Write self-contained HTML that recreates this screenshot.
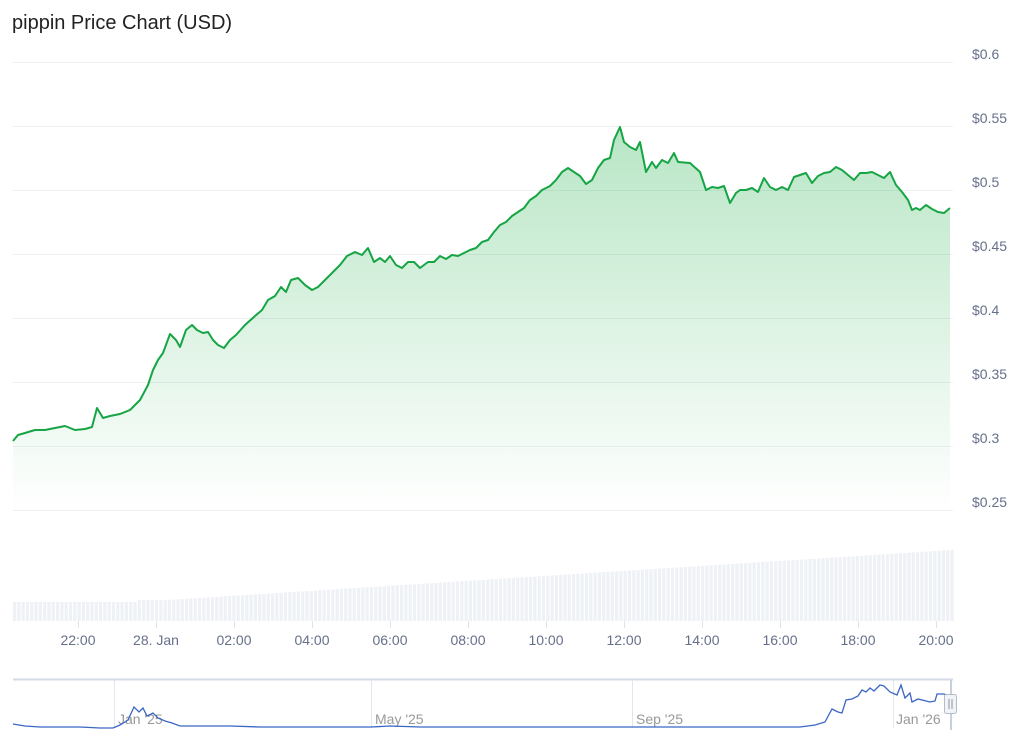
<!DOCTYPE html>
<html><head><meta charset="utf-8"><style>
body{margin:0;background:#fff;font-family:"Liberation Sans",sans-serif;}
svg text{font-family:"Liberation Sans",sans-serif;}
</style></head><body>
<svg id="s" width="1024" height="748" xmlns="http://www.w3.org/2000/svg">
<defs><linearGradient id="g" x1="0" y1="0" x2="0" y2="1"><stop offset="0" stop-color="#22b04b" stop-opacity="0.32"/><stop offset="1" stop-color="#22b04b" stop-opacity="0"/></linearGradient></defs>
<text x="12" y="29" font-size="20" fill="#222">pippin Price Chart (USD)</text>
<g stroke="#eef0f3" stroke-width="1">
<line x1="13" x2="953" y1="62.5" y2="62.5"/><line x1="13" x2="953" y1="126.5" y2="126.5"/><line x1="13" x2="953" y1="190.5" y2="190.5"/><line x1="13" x2="953" y1="254.5" y2="254.5"/><line x1="13" x2="953" y1="318.5" y2="318.5"/><line x1="13" x2="953" y1="382.5" y2="382.5"/><line x1="13" x2="953" y1="446.5" y2="446.5"/><line x1="13" x2="953" y1="510.5" y2="510.5"/>
</g>
<g font-size="14" fill="#66708a">
<text x="972" y="59">$0.6</text><text x="972" y="123">$0.55</text><text x="972" y="187">$0.5</text><text x="972" y="251">$0.45</text><text x="972" y="315">$0.4</text><text x="972" y="379">$0.35</text><text x="972" y="443">$0.3</text><text x="972" y="507">$0.25</text>
</g>
<g id="vol" fill="#eef1f5"></g>
<path id="area" fill="url(#g)"/>
<path id="line" fill="none" stroke="#16a544" stroke-width="2" stroke-linejoin="round"/>
<g stroke="#e0e4ec"><line x1="78.5" x2="78.5" y1="621" y2="628"/><line x1="156.5" x2="156.5" y1="621" y2="628"/><line x1="234.5" x2="234.5" y1="621" y2="628"/><line x1="312.5" x2="312.5" y1="621" y2="628"/><line x1="390.5" x2="390.5" y1="621" y2="628"/><line x1="468.5" x2="468.5" y1="621" y2="628"/><line x1="546.5" x2="546.5" y1="621" y2="628"/><line x1="624.5" x2="624.5" y1="621" y2="628"/><line x1="702.5" x2="702.5" y1="621" y2="628"/><line x1="780.5" x2="780.5" y1="621" y2="628"/><line x1="858.5" x2="858.5" y1="621" y2="628"/><line x1="936.5" x2="936.5" y1="621" y2="628"/></g>
<g font-size="14" fill="#66708a" text-anchor="middle">
<text x="78" y="645">22:00</text><text x="156" y="645">28. Jan</text><text x="234" y="645">02:00</text><text x="312" y="645">04:00</text><text x="390" y="645">06:00</text><text x="468" y="645">08:00</text><text x="546" y="645">10:00</text><text x="624" y="645">12:00</text><text x="702" y="645">14:00</text><text x="780" y="645">16:00</text><text x="858" y="645">18:00</text><text x="936" y="645">20:00</text>
</g>
<line x1="13" x2="953" y1="679.5" y2="679.5" stroke="#d5dbe6" stroke-width="2"/>
<g stroke="#e3e6ec"><line x1="114.5" x2="114.5" y1="680" y2="728"/><line x1="371.5" x2="371.5" y1="680" y2="728"/><line x1="632.5" x2="632.5" y1="680" y2="728"/><line x1="893.5" x2="893.5" y1="680" y2="728"/></g>
<g font-size="14" fill="#999"><text x="118" y="724">Jan '25</text><text x="375" y="724">May '25</text><text x="636" y="724">Sep '25</text><text x="896" y="724">Jan '26</text></g>
<path fill="none" stroke="#3a66c4" stroke-width="1.3" d="M13,724 L25,726 L40,727 L60,727 L80,727 L100,728 L113,728 L120,725 L128,720 L134,707 L139,712 L143,708 L147,716 L153,713 L158,718 L165,721 L172,723 L180,726 L200,726 L230,726 L260,727 L300,727 L340,727 L371,727 L390,726 L420,727 L460,727 L500,727 L540,727 L580,727 L620,727 L660,727 L700,727 L750,727 L800,727 L815,725 L825,722 L832,709 L838,712 L842,713 L846,700 L852,699 L858,696 L862,690 L866,692 L870,688 L874,691 L880,685 L884,686 L890,692 L897,695 L901,685 L905,698 L910,693 L912,702 L918,699 L930,702 L935,701 L937,694 L944,694 L950,697"/>
<line x1="951" x2="951" y1="680" y2="730" stroke="#c8d0de" stroke-width="2"/>
<rect x="944.5" y="694.5" width="12" height="19" rx="2" fill="#f2f3f7" stroke="#b5bcc9"/>
<line x1="949" x2="949" y1="699" y2="709" stroke="#8a93a3"/><line x1="952" x2="952" y1="699" y2="709" stroke="#8a93a3"/>
</svg>
<script>
var p=[[13,441],[18,435],[25,433],[35,430],[45,430],[55,428],[65,426],[75,430],[85,429],[92,427],[97,408],[103,418],[110,416],[120,414],[130,410],[140,400],[148,385],[153,370],[158,360],[163,353],[170,334],[176,340],[180,347],[186,330],[192,325],[197,330],[203,333],[208,332],[213,340],[218,345],[224,348],[230,340],[236,335],[245,325],[255,316],[262,310],[268,300],[275,296],[281,287],[286,292],[291,280],[298,278],[305,285],[312,290],[318,287],[325,280],[332,273],[340,265],[347,256],[355,252],[362,255],[368,248],[374,262],[380,258],[385,262],[390,256],[396,265],[402,268],[408,262],[414,262],[420,268],[428,262],[434,262],[440,256],[446,259],[452,255],[458,256],[464,253],[470,250],[476,248],[482,242],[488,240],[494,232],[500,225],[506,222],[512,216],[518,212],[524,208],[530,200],[536,196],[542,190],[550,186],[556,180],[562,172],[568,168],[574,172],[580,176],[586,184],[592,180],[598,168],[604,160],[610,158],[614,140],[620,127],[624,142],[630,147],[636,150],[640,142],[646,172],[652,162],[656,168],[662,160],[668,163],[674,153],[678,162],[690,163],[700,172],[706,190],[712,187],[718,188],[724,186],[730,203],[736,193],[740,190],[746,190],[752,188],[758,192],[764,178],[770,187],[776,190],[782,187],[788,190],[794,177],[800,175],[806,173],[812,183],[818,176],[824,173],[830,172],[836,167],[842,170],[848,175],[854,180],[860,173],[866,173],[872,172],[878,175],[884,178],[890,172],[896,185],[902,192],[908,200],[912,210],[916,208],[920,210],[926,205],[932,209],[938,212],[944,213],[950,208]];
var d="M"+p.map(function(a){return a.join(",")}).join(" L");
document.getElementById("line").setAttribute("d",d);
document.getElementById("area").setAttribute("d",d+" L950,510 L13,510 Z");
var v="",x=13;
while(x<952){var t=x<135?602:(x<160?600:602-(x-135)/(950-135)*52);v+='<rect x="'+x+'" y="'+t.toFixed(1)+'" width="3.2" height="'+(621-t).toFixed(1)+'"/>';x+=4.3;}
document.getElementById("vol").innerHTML=v;
</script>
</body></html>
